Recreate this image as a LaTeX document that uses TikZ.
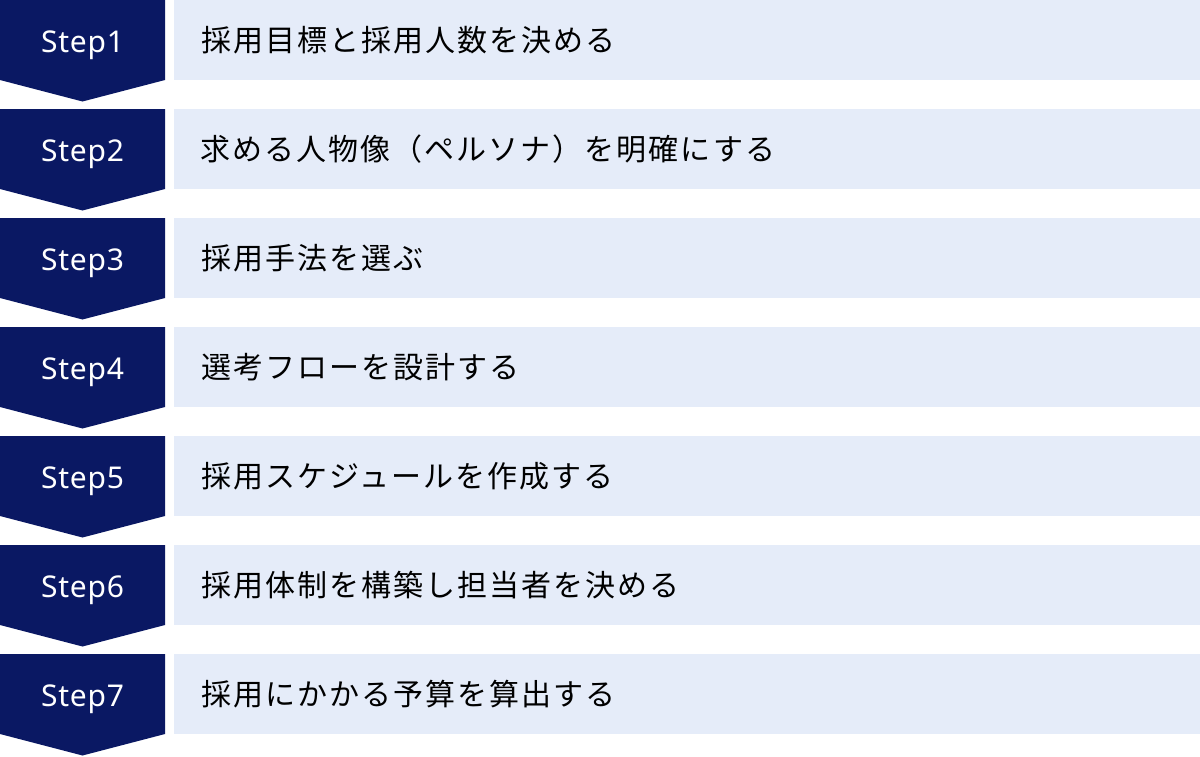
\documentclass[tikz,border=0pt]{standalone}
\usepackage{fontspec}
\setmainfont{Noto Sans}[LetterSpace=2.5]
\newfontfamily\jpfont{Noto Sans CJK JP}[LetterSpace=6.8]
\usetikzlibrary{positioning}
\definecolor{stepnavy}{RGB}{10,24,99}
\definecolor{barblue}{RGB}{229,236,249}

\begin{document}
\begin{tikzpicture}[x=1pt, y=-1pt,
        steplabel/.style={text=white, anchor=base, inner sep=0pt, font=\fontsize{30}{36}\selectfont},
        stepbar/.style={fill=barblue, anchor=north west, minimum width=1026pt, minimum height=80pt, inner sep=0pt},
        steptext/.style={anchor=west, inner sep=0pt, font=\jpfont\fontsize{30}{36}\selectfont}]
        \useasboundingbox (0,0) rectangle (1200,756);

        % Chevrons for the steps
        \fill[stepnavy] (0,0) -- (165,0) -- (165,80) -- (82.5,101.5) -- (0,80) -- cycle;
        \fill[stepnavy] (0,109) -- (165,109) -- (165,189) -- (82.5,210.5) -- (0,189) -- cycle;
        \fill[stepnavy] (0,218) -- (165,218) -- (165,298) -- (82.5,319.5) -- (0,298) -- cycle;
        \fill[stepnavy] (0,327) -- (165,327) -- (165,407) -- (82.5,428.5) -- (0,407) -- cycle;
        \fill[stepnavy] (0,436) -- (165,436) -- (165,516) -- (82.5,537.5) -- (0,516) -- cycle;
        \fill[stepnavy] (0,545) -- (165,545) -- (165,625) -- (82.5,646.5) -- (0,625) -- cycle;
        \fill[stepnavy] (0,654) -- (165,654) -- (165,734) -- (82.5,755.5) -- (0,734) -- cycle;

        % Step labels
        \node[steplabel] (S1) at (82.5,52) {Step1};
        \node[steplabel] (S2) at (82.5,161) {Step2};
        \node[steplabel] (S3) at (82.5,270) {Step3};
        \node[steplabel] (S4) at (82.5,379) {Step4};
        \node[steplabel] (S5) at (82.5,488) {Step5};
        \node[steplabel] (S6) at (82.5,597) {Step6};
        \node[steplabel] (S7) at (82.5,706) {Step7};

        % Bars for the descriptions
        \node[stepbar] (B1) at (174,0) {};
        \node[stepbar] (B2) at (174,109) {};
        \node[stepbar] (B3) at (174,218) {};
        \node[stepbar] (B4) at (174,327) {};
        \node[stepbar] (B5) at (174,436) {};
        \node[stepbar] (B6) at (174,545) {};
        \node[stepbar] (B7) at (174,654) {};

        % Descriptions
        \node[steptext, right=27pt of B1.west] (T1) {採用目標と採用人数を決める};
        \node[steptext, right=26pt of B2.west] (T2) {求める人物像（ペルソナ）を明確にする};
        \node[steptext, right=27pt of B3.west] (T3) {採用手法を選ぶ};
        \node[steptext, right=27pt of B4.west] (T4) {選考フローを設計する};
        \node[steptext, right=27pt of B5.west] (T5) {採用スケジュールを作成する};
        \node[steptext, right=27pt of B6.west] (T6) {採用体制を構築し担当者を決める};
        \node[steptext, right=27pt of B7.west] (T7) {採用にかかる予算を算出する};
\end{tikzpicture}
\end{document}
